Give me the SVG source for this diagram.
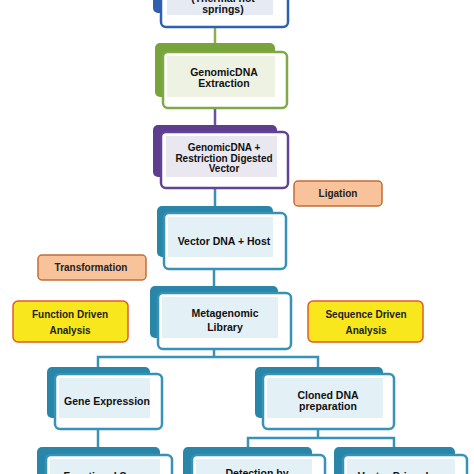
<svg xmlns="http://www.w3.org/2000/svg" width="474" height="474" viewBox="0 0 474 474">
<style>
.front{fill:#ffffff;stroke-width:2.5}
.t{font-family:"Liberation Sans",Arial,sans-serif;font-weight:bold;font-size:10.5px;fill:#111;text-anchor:middle}
.t2{font-family:"Liberation Sans",Arial,sans-serif;font-weight:bold;font-size:10px;fill:#111;text-anchor:middle}
.l{font-family:"Liberation Sans",Arial,sans-serif;font-weight:bold;font-size:10px;fill:#222;text-anchor:middle}
.blue .back{fill:#2f5fae}.blue .front{stroke:#2f5fae}.blue .inner{fill:#e6ebf3}
.green .back{fill:#78a43c}.green .front{stroke:#7fa944}.green .inner{fill:#eef2e2}
.purple .back{fill:#5e3d8f}.purple .front{stroke:#624494}.purple .inner{fill:#e9e7ef}
.teal .back{fill:#2a86a8}.teal .front{stroke:#3792b6}.teal .inner{fill:#e3f0f5}
.peach{fill:#f8c39a;stroke:#c46c38;stroke-width:1.5}
.yellow{fill:#f8e71c;stroke:#e2592e;stroke-width:1.5}
.c{fill:none;stroke-width:2.5}
</style>
<rect width="474" height="474" fill="#ffffff"/>
<g id="connectors">
<line class="c" x1="215" y1="27" x2="215" y2="52" stroke="#8cb04a"/>
<line class="c" x1="215" y1="108" x2="215" y2="132" stroke="#6b4fa0"/>
<g stroke="#3792b6">
<line class="c" x1="215" y1="188" x2="215" y2="213"/>
<line class="c" x1="214" y1="269" x2="214" y2="293"/>
<polyline class="c" points="214,349 214,357"/>
<polyline class="c" points="98,374 98,357 318,357 318,374"/>
<line class="c" x1="98" y1="429" x2="98" y2="455"/>
<line class="c" x1="318" y1="429" x2="318" y2="438"/>
<polyline class="c" points="248,455 248,438 394,438 394,455"/>
</g>
</g>
<g id="node-source" class="blue">
<rect class="back" x="153" y="-20" width="122" height="33" rx="5"/>
<rect class="front" x="161" y="-30" width="127" height="57" rx="5"/>
<rect class="inner" x="167" y="-20" width="106" height="35"/>
<text class="t" x="223" y="2">(Thermal hot</text>
<text class="t" x="223" y="13">springs)</text>
</g>
<g id="node-extraction" class="green">
<rect class="back" x="155" y="43" width="120" height="54" rx="5"/>
<rect class="front" x="163" y="52" width="124" height="56" rx="5"/>
<rect class="inner" x="167" y="56" width="108" height="41"/>
<text class="t" x="224" y="76">GenomicDNA</text>
<text class="t" x="224" y="87">Extraction</text>
</g>
<g id="node-digest" class="purple">
<rect class="back" x="153" y="125" width="124" height="52" rx="5"/>
<rect class="front" x="161" y="132" width="127" height="56" rx="5"/>
<rect class="inner" x="166" y="136" width="111" height="41"/>
<text class="t2" x="224" y="151">GenomicDNA +</text>
<text class="t2" x="224" y="161.5">Restriction Digested</text>
<text class="t2" x="224" y="172">Vector</text>
</g>
<g id="label-ligation">
<rect class="peach" x="294" y="181" width="88" height="25" rx="4"/>
<text class="l" x="338" y="197">Ligation</text>
</g>
<g id="node-host" class="teal">
<rect class="back" x="157" y="206" width="116" height="51" rx="5"/>
<rect class="front" x="164" y="213" width="122" height="56" rx="5"/>
<rect class="inner" x="168" y="217" width="105" height="40"/>
<text class="t" x="224" y="245">Vector DNA + Host</text>
</g>
<g id="label-transformation">
<rect class="peach" x="38" y="255" width="108" height="25" rx="4"/>
<text class="l" x="91" y="271">Transformation</text>
</g>
<g id="node-library" class="teal">
<rect class="back" x="150" y="286" width="128" height="52" rx="5"/>
<rect class="front" x="158" y="293" width="133" height="56" rx="5"/>
<rect class="inner" x="162" y="297" width="116" height="41"/>
<text class="t" x="225" y="317">Metagenomic</text>
<text class="t" x="225" y="331">Library</text>
</g>
<g id="label-function">
<rect class="yellow" x="13" y="301" width="115" height="41" rx="5"/>
<text class="l" x="70" y="318">Function Driven</text>
<text class="l" x="70" y="334">Analysis</text>
</g>
<g id="label-sequence">
<rect class="yellow" x="308" y="301" width="115" height="41" rx="5"/>
<text class="l" x="366" y="318">Sequence Driven</text>
<text class="l" x="366" y="334">Analysis</text>
</g>
<g id="node-expression" class="teal">
<rect class="back" x="47" y="367" width="103" height="51" rx="5"/>
<rect class="front" x="55" y="374" width="107" height="55" rx="5"/>
<rect class="inner" x="59" y="378" width="91" height="40"/>
<text class="t" x="107" y="405">Gene Expression</text>
</g>
<g id="node-cloned" class="teal">
<rect class="back" x="255" y="367" width="128" height="51" rx="5"/>
<rect class="front" x="263" y="374" width="131" height="55" rx="5"/>
<rect class="inner" x="267" y="378" width="116" height="40"/>
<text class="t" x="328" y="399">Cloned DNA</text>
<text class="t" x="328" y="410">preparation</text>
</g>
<g id="node-functional" class="teal">
<rect class="back" x="37" y="447" width="123" height="50" rx="5"/>
<rect class="front" x="46" y="455" width="126" height="50" rx="5"/>
<rect class="inner" x="50" y="459" width="110" height="40"/>
<text class="t" x="109" y="480">Functional Screen</text>
</g>
<g id="node-detection" class="teal">
<rect class="back" x="183" y="447" width="129" height="50" rx="5"/>
<rect class="front" x="192" y="455" width="133" height="50" rx="5"/>
<rect class="inner" x="196" y="459" width="116" height="40"/>
<text class="t" x="257" y="477">Detection by</text>
</g>
<g id="node-primed" class="teal">
<rect class="back" x="334" y="447" width="121" height="50" rx="5"/>
<rect class="front" x="343" y="455" width="124" height="50" rx="5"/>
<rect class="inner" x="347" y="459" width="108" height="40"/>
<text class="t" x="393" y="480">Vector Primed</text>
</g>
</svg>
